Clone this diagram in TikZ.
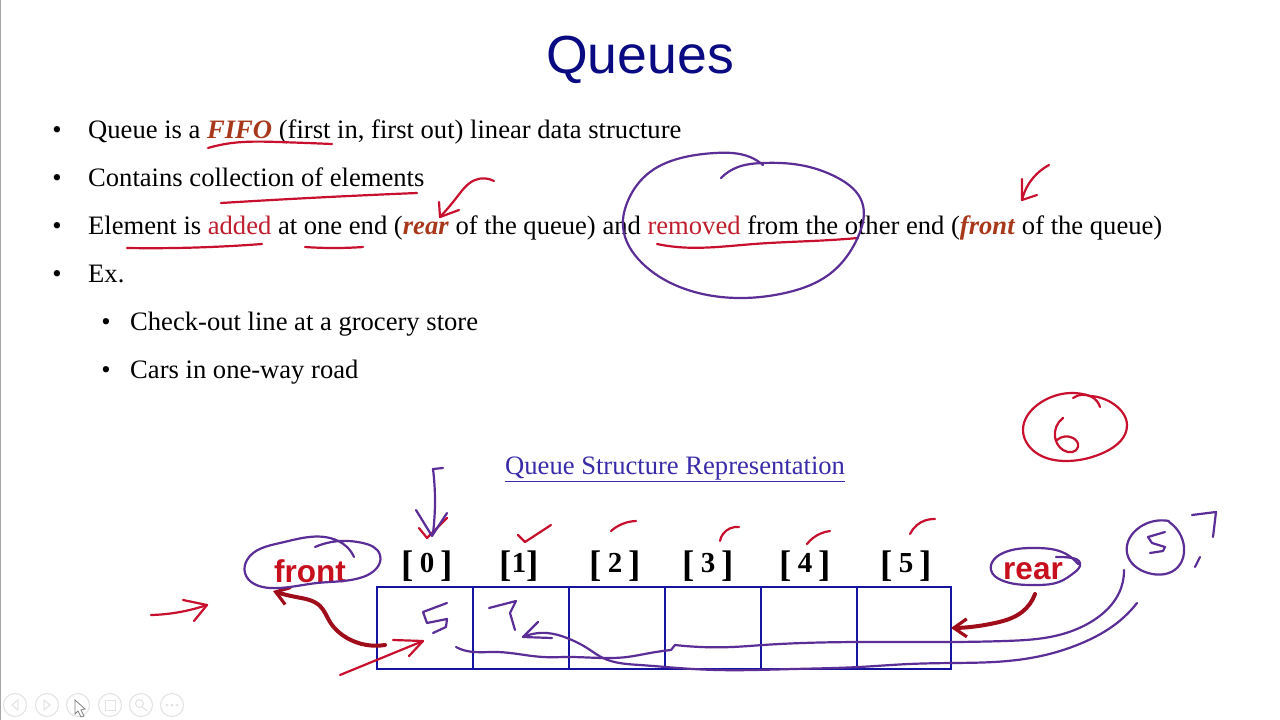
\documentclass[tikz,border=0pt]{standalone}
\usepackage{fontspec}
\setmainfont{Liberation Serif}
\setsansfont{Liberation Sans}
\usetikzlibrary{arrows.meta,hobby}
\definecolor{navy}{HTML}{0A0A82}
\definecolor{cellblue}{HTML}{1414A0}
\definecolor{linkblue}{HTML}{3A2CA8}
\definecolor{brick}{HTML}{A8381A}
\definecolor{wordred}{HTML}{BE1E2D}
\definecolor{inkred}{HTML}{C8102E}
\definecolor{inkpurple}{HTML}{5B2D96}
\definecolor{darkred}{HTML}{A00D1A}
\definecolor{labelred}{HTML}{C80F1E}
\definecolor{iconline}{HTML}{E2E2E2}
\newcommand{\idx}[2][\hspace{6pt}]{{\fontsize{37}{38}\selectfont\bfseries [#1\raisebox{3.5pt}{\fontsize{29}{30}\selectfont #2}#1]}}
\tikzset{
  txt/.style={inner sep=0pt,anchor=base west,font=\fontsize{26.6}{30}\selectfont},
  dot/.style={inner sep=0pt,anchor=base,font=\fontsize{26.6}{30}\selectfont},
  cell/.style={draw=cellblue,line width=1.4pt,minimum width=96pt,minimum height=82pt,inner sep=0pt,outer sep=0pt},
  idxlabel/.style={inner sep=0pt,anchor=center},
  tag/.style={inner sep=0pt,font=\fontsize{31.5}{34}\sffamily\bfseries\selectfont,text=labelred},
  redp/.style={draw=inkred,line width=2.2pt,line cap=round,line join=round},
  purp/.style={draw=inkpurple,line width=2.2pt,line cap=round,line join=round},
  red/.style={redp,use Hobby shortcut},
  pur/.style={purp,use Hobby shortcut},
  icon/.style={draw=iconline,line width=1pt,circle,minimum size=23pt,inner sep=0pt}
}
\begin{document}
\begin{tikzpicture}[x=1pt,y=-1pt]
\useasboundingbox (0,0) rectangle (1280,720);
\fill[white] (0,0) rectangle (1280,720);
\draw[gray!70,line width=.8pt] (0.4,0) -- (0.4,720);
% title
\node[inner sep=0pt,anchor=base,font=\fontsize{53.6}{60}\sffamily\selectfont,text=navy] (title) at (640,73) {Queues};
% bullets
\node[dot] (b1) at (57,138) {•};
\node[dot] (b2) at (57,186) {•};
\node[dot] (b3) at (57,234) {•};
\node[dot] (b4) at (57,282) {•};
\node[dot] (b5) at (106,330) {•};
\node[dot] (b6) at (106,378) {•};
\node[txt] (t1) at (88,138) {Queue is a \textcolor{brick}{\textbf{\textit{FIFO}}} (first in, first out) linear data structure};
\node[txt] (t2) at (88,186) {Contains collection of elements};
\node[txt] (t3) at (88,234) {Element is \textcolor{wordred}{added} at one end (\textcolor{brick}{\textbf{\textit{rear}}} of the queue) and \textcolor{wordred}{removed} from the other end (\textcolor{brick}{\textbf{\textit{front}}} of the queue)};
\node[txt] (t4) at (88,282) {Ex.};
\node[txt] (t5) at (130,330) {Check-out line at a grocery store};
\node[txt] (t6) at (130,378) {Cars in one-way road};
\node[txt,text=linkblue] (qsr) at (505,474) {\underline{Queue Structure Representation}};
% array
\node[cell] (c0) at (425,628) {};
\node[cell] (c1) at (521,628) {};
\node[cell] (c2) at (617,628) {};
\node[cell] (c3) at (713,628) {};
\node[cell] (c4) at (809,628) {};
\node[cell,minimum width=94pt] (c5) at (904,628) {};
\draw[cellblue,line width=2.6pt] (c0.north west) rectangle (c5.south east);
\node[idxlabel] (i0) at (427,566) {\idx{0}};
\node[idxlabel] (i1) at (519,566) {\idx[]{1}};
\node[idxlabel] (i2) at (615,566) {\idx{2}};
\node[idxlabel] (i3) at (708,566) {\idx{3}};
\node[idxlabel] (i4) at (805,566) {\idx{4}};
\node[idxlabel] (i5) at (906,566) {\idx{5}};
\node[tag] (front) at (310,571) {front};
\node[tag] (rear) at (1033,571) {rear};
% thick arrows
\coordinate (fstart) at (385,645);
\coordinate (ftip) at (273,591);
\coordinate (rstart) at (1035,594);
\draw[darkred,line width=4pt,line cap=round,use Hobby shortcut,-{Straight Barb[length=13pt,width=18pt,line width=3.2pt]}] (fstart) .. (347,638) .. (330,622) .. (320,606) .. (296,597) .. (ftip);
\draw[darkred,line width=4pt,line cap=round,use Hobby shortcut,-{Straight Barb[length=13pt,width=18pt,line width=3.2pt]}] (rstart) .. (1022,612) .. (995,623) .. (c5.east);
% red ink
\draw[red] (208,148) .. (232,143) .. (278,142) .. (332,144);
\draw[red] (221,203) .. (309,198) .. (417,193);
\draw[red] (127,248) .. (175,248) .. (262,244);
\draw[red] (305,247) .. (332,248) .. (363,247);
\draw[red] (494,181) .. (475,180) .. (457,197) .. (440,217);
\draw[redp] (439,202) -- (440,217) -- (459,210);
\draw[red] (657,244) .. (677,247) .. (754,244) .. (831,240) .. (858,238);
\draw[red] (1049,165) .. (1033,178) .. (1022,200);
\draw[redp] (1022,179) -- (1022,200) -- (1037,195);
\draw[red] (1090,396) .. (1071,393) .. (1040,403) .. (1023,430) .. (1035,452) .. (1067,461) .. (1105,452) .. (1127,425) .. (1115,405) .. (1090,396);
\draw[red] (1073,398) .. (1092,397) .. (1100,407);
\draw[red] (1063,418) .. (1055,437) .. (1063,450) .. (1078,447) .. (1073,438) .. (1057,440);
\draw[redp] (419,528) -- (427,538) -- (447,518);
\draw[redp] (518,535) -- (525,542) -- (551,525);
\draw[red] (611,531) .. (618,526) .. (636,521);
\draw[red] (720,541) .. (723,534) .. (739,527);
\draw[red] (807,544) .. (813,538) .. (830,531);
\draw[red] (910,534) .. (917,525) .. (935,519);
\draw[red] (151,615) .. (180,612) .. (207,605);
\draw[redp] (183,600) -- (207,605) -- (194,621);
\draw[redp] (340,675) -- (423,641);
\draw[redp] (393,640) -- (423,641) -- (409,656);
% purple ink
\draw[pur] (721,178) .. (738,167) .. (763,163) .. (800,165) .. (838,178) .. (862,202) .. (858,237) .. (831,273) .. (785,293) .. (742,298) .. (688,290) .. (642,263) .. (623,227) .. (627,203) .. (650,172) .. (685,157) .. (715,153) .. (750,157) .. (763,165);
\draw[purp] (443,468) -- (433,469);
\draw[pur] (433,469) .. (435,500) .. (433,533);
\draw[purp] (416,510) -- (432,536) -- (447,513);
\draw[pur] (315,547) .. (340,541) .. (363,543) .. (380,555) .. (363,577) .. (317,583) .. (270,588) .. (245,573) .. (247,560) .. (280,543) .. (330,538) .. (347,547) .. (354,557);
\draw[pur] (1056,557) .. (1072,558) .. (1080,563) .. (1075,572) .. (1059,582) .. (1036,585) .. (1001,580) .. (991,570) .. (1003,553) .. (1036,548) .. (1062,552) .. (1078,564);
\draw[pur] (1169,521) .. (1140,527) .. (1127,553) .. (1148,573) .. (1178,567) .. (1184,547) .. (1169,522);
\draw[purp] (1165,532) -- (1148,537) -- (1152,543) -- (1165,547) -- (1163,551) -- (1150,553);
\draw[purp] (1192,515) -- (1216,512) -- (1213,537);
\draw[purp] (1200,557) -- (1195,567);
\draw[purp] (447,603) -- (423,612) -- (427,623) -- (447,619) -- (446,627) -- (433,633);
\draw[purp] (489,608) -- (516,601) -- (510,613) -- (515,630);
\draw[pur] (1124,570) .. (1119,593) .. (1094,620) .. (1059,635) .. (1005,641) .. (952,642) .. (859,642) .. (763,645) .. (732,647) .. (675,645);
\draw[purp] (675,645) -- (671,650);
\draw[pur] (671,650) .. (650,653) .. (627,657) .. (603,658) .. (569,657) .. (543,657) .. (497,652) .. (463,650) .. (456,647);
\draw[pur] (1137,603) .. (1117,623) .. (1082,643) .. (1036,657) .. (994,662) .. (952,663) .. (909,664) .. (859,667) .. (794,669) .. (717,670) .. (678,668) .. (640,665) .. (603,658) .. (587,648) .. (567,638) .. (547,633) .. (523,637);
\draw[purp] (538,622) -- (523,637) -- (552,638);
% slide controls
\node[icon] (n1) at (15,705) {};
\node[icon] (n2) at (47,705) {};
\node[icon] (n3) at (78,705) {};
\node[icon] (n4) at (110,705) {};
\node[icon] (n5) at (141,705) {};
\node[icon] (n6) at (172,705) {};
\draw[iconline,line width=1pt] (18,700) -- (12,705) -- (18,710) -- cycle;
\draw[iconline,line width=1pt] (44,700) -- (50,705) -- (44,710) -- cycle;
\draw[gray,line width=.8pt,fill=white] (75,700) -- (75,714) -- (78,711) -- (81,717) -- (84,716) -- (81,710) -- (85,709) -- cycle;
\draw[iconline,line width=1pt] (105,700) rectangle (115,710);
\draw[iconline,line width=1pt] (139.5,703.5) circle (4pt) (142.5,707) -- (147,711);
\fill[iconline] (167,705) circle (1.5pt) (172,705) circle (1.5pt) (177,705) circle (1.5pt);
\end{tikzpicture}
\end{document}
